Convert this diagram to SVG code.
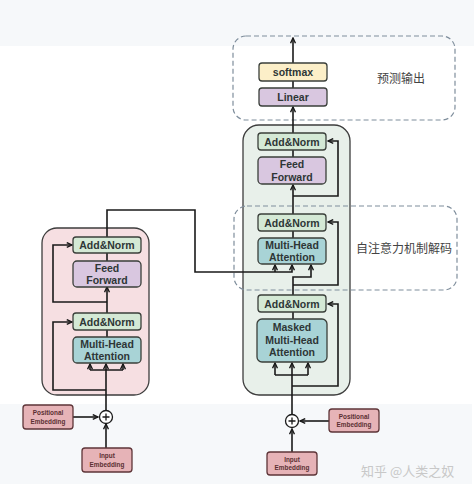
<svg xmlns="http://www.w3.org/2000/svg" width="474" height="488" viewBox="0 0 474 488">
<defs>
<marker id="ah" viewBox="0 0 10 10" refX="9" refY="5" markerWidth="7" markerHeight="7" orient="auto-start-reverse" markerUnits="userSpaceOnUse">
<path d="M1.5,1.5 L9,5 L1.5,8.5" fill="none" stroke="#1a1a1a" stroke-width="2"/>
</marker>
<style>
.bx{stroke:#3a3f3a;stroke-width:1.3}
.an{fill:#d4e9d5}
.ff{fill:#d9c7e0}
.mh{fill:#a8d3d6}
.sm{fill:#fcefc8}
.em{fill:#e6b3b7;stroke:#5e3538;stroke-width:1.3}
.t{font-family:"Liberation Sans",Arial,sans-serif;font-weight:bold;font-size:10.5px;fill:#2e3636;text-anchor:middle}
.te{font-family:"Liberation Sans",Arial,sans-serif;font-weight:bold;font-size:6.4px;fill:#5a2f32;text-anchor:middle}
.cn{font-family:"Noto Sans CJK SC",sans-serif;font-size:12px;fill:#444;}
.dash{fill:none;stroke:#7f8e9c;stroke-width:1.2;stroke-dasharray:5,3}
.ln{fill:none;stroke:#1a1a1a;stroke-width:1.6}
</style>
</defs>
<rect x="0" y="0" width="474" height="488" fill="#ffffff"/>
<rect x="0" y="0" width="474" height="46" fill="#f6f8fa"/>
<rect x="0" y="404" width="472" height="80" fill="#f6f8fa"/>

<g id="decoder-bg"><rect x="243" y="125" width="107" height="270" rx="16" fill="#e8f0ea" stroke="#3d3d3d" stroke-width="1.3"/></g>
<g id="encoder-bg"><rect x="42" y="228" width="107" height="167" rx="15" fill="#f6dfe2" stroke="#3d3d3d" stroke-width="1.3"/></g>

<g id="output-group"><rect class="dash" x="233" y="36" width="222" height="84" rx="13"/><text class="cn" x="377" y="83">预测输出</text></g>
<g id="selfatt-group"><rect class="dash" x="234" y="206" width="223" height="84" rx="13"/><text class="cn" x="356" y="253">自注意力机制解码</text></g>

<g id="connectors">
<path class="ln" d="M293,63 V38" marker-end="url(#ah)"/>
<path class="ln" d="M293,81 V88"/>
<path class="ln" d="M293,133 V107" marker-end="url(#ah)"/>
<path class="ln" d="M293,157 V150"/>
<path class="ln" d="M293,214 V185" marker-end="url(#ah)"/>
<path class="ln" d="M293,196 H338 V141 H328" marker-end="url(#ah)"/>
<path class="ln" d="M293,238 V231"/>
<path class="ln" d="M293,295 V277 H311 V265" marker-end="url(#ah)"/>
<path class="ln" d="M293,285 H338 V222 H328" marker-end="url(#ah)"/>
<path class="ln" d="M107,237 V210 H195 V272 H292 V265" marker-end="url(#ah)"/>
<path class="ln" d="M275,272 V265" marker-end="url(#ah)"/>
<path class="ln" d="M293,319 V312"/>
<path class="ln" d="M292,414 V363" marker-end="url(#ah)"/>
<path class="ln" d="M275,375 H308"/>
<path class="ln" d="M275,375 V363" marker-end="url(#ah)"/>
<path class="ln" d="M308,375 V363" marker-end="url(#ah)"/>
<path class="ln" d="M292,386 H338 V304 H328" marker-end="url(#ah)"/>
<path class="ln" d="M292,452 V429" marker-end="url(#ah)"/>
<path class="ln" d="M329,421 H300" marker-end="url(#ah)"/>
<path class="ln" d="M107,261 V253"/>
<path class="ln" d="M107,313 V287" marker-end="url(#ah)"/>
<path class="ln" d="M107,302 H53 V245 H72" marker-end="url(#ah)"/>
<path class="ln" d="M107,337 V330"/>
<path class="ln" d="M106,410 V364" marker-end="url(#ah)"/>
<path class="ln" d="M90,370 H123"/>
<path class="ln" d="M90,370 V364" marker-end="url(#ah)"/>
<path class="ln" d="M123,370 V364" marker-end="url(#ah)"/>
<path class="ln" d="M106,390 H53 V322 H72" marker-end="url(#ah)"/>
<path class="ln" d="M106,448 V424" marker-end="url(#ah)"/>
<path class="ln" d="M73,417 H98" marker-end="url(#ah)"/>
</g>

<g id="softmax"><rect class="bx sm" x="259" y="63" width="68" height="18" rx="3"/><text class="t" x="293" y="75.5">softmax</text></g>
<g id="linear"><rect class="bx ff" x="259" y="88" width="68" height="18" rx="3"/><text class="t" x="293" y="100.5">Linear</text></g>

<g id="dec-addnorm3"><rect class="bx an" x="258" y="133" width="68" height="17" rx="3"/><text class="t" x="292" y="145.5">Add&amp;Norm</text></g>
<g id="dec-ff"><rect class="bx ff" x="258" y="157" width="68" height="27" rx="4"/><text class="t" x="292" y="168">Feed</text><text class="t" x="292" y="180.5">Forward</text></g>
<g id="dec-addnorm2"><rect class="bx an" x="258" y="214" width="68" height="17" rx="3"/><text class="t" x="292" y="226.5">Add&amp;Norm</text></g>
<g id="dec-mha"><rect class="bx mh" x="258" y="238" width="68" height="26" rx="4"/><text class="t" x="292" y="248.5">Multi-Head</text><text class="t" x="292" y="261">Attention</text></g>
<g id="dec-addnorm1"><rect class="bx an" x="258" y="295" width="68" height="17" rx="3"/><text class="t" x="292" y="307.5">Add&amp;Norm</text></g>
<g id="dec-mmha"><rect class="bx mh" x="257" y="319" width="70" height="43" rx="5"/><text class="t" x="292" y="331">Masked</text><text class="t" x="292" y="343.5">Multi-Head</text><text class="t" x="292" y="356">Attention</text></g>

<g id="enc-addnorm2"><rect class="bx an" x="73" y="237" width="68" height="16" rx="3"/><text class="t" x="107" y="249">Add&amp;Norm</text></g>
<g id="enc-ff"><rect class="bx ff" x="73" y="261" width="68" height="26" rx="4"/><text class="t" x="107" y="271.5">Feed</text><text class="t" x="107" y="284">Forward</text></g>
<g id="enc-addnorm1"><rect class="bx an" x="73" y="313" width="68" height="17" rx="3"/><text class="t" x="107" y="325.5">Add&amp;Norm</text></g>
<g id="enc-mha"><rect class="bx mh" x="73" y="337" width="68" height="26" rx="4"/><text class="t" x="107" y="347.5">Multi-Head</text><text class="t" x="107" y="360">Attention</text></g>

<g id="enc-plus"><circle cx="106" cy="417" r="6.5" fill="#fff" stroke="#1a1a1a" stroke-width="1.3"/><path d="M102.5,417 H109.5 M106,413.5 V420.5" stroke="#1a1a1a" stroke-width="1.3"/></g>
<g id="dec-plus"><circle cx="292" cy="421" r="6.5" fill="#fff" stroke="#1a1a1a" stroke-width="1.3"/><path d="M288.5,421 H295.5 M292,417.5 V424.5" stroke="#1a1a1a" stroke-width="1.3"/></g>

<g id="enc-pos"><rect class="em" x="23" y="405" width="50" height="24" rx="3"/><text class="te" x="48" y="415">Positional</text><text class="te" x="48" y="423.5">Embedding</text></g>
<g id="enc-input"><rect class="em" x="82" y="448" width="50" height="24" rx="3"/><text class="te" x="107" y="458">Input</text><text class="te" x="107" y="466.5">Embedding</text></g>
<g id="dec-pos"><rect class="em" x="329" y="409" width="50" height="23" rx="3"/><text class="te" x="354" y="418.5">Positional</text><text class="te" x="354" y="427">Embedding</text></g>
<g id="dec-input"><rect class="em" x="267" y="452" width="50" height="23" rx="3"/><text class="te" x="292" y="461.5">Input</text><text class="te" x="292" y="470">Embedding</text></g>

<text x="361" y="476" font-family="Noto Sans CJK SC, sans-serif" font-size="13" fill="#c8c8c8">知乎 @人类之奴</text>
</svg>
